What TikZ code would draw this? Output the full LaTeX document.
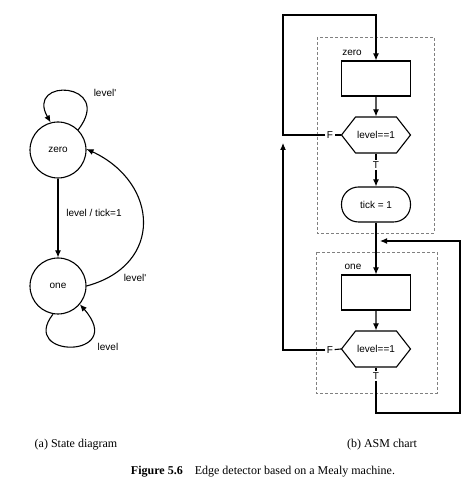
\documentclass[tikz,border=0pt]{standalone}
\usepackage{fontspec}
\setmainfont{Liberation Serif}
\newfontfamily\asmfont{Liberation Sans}
\usepackage{tikz}
\usetikzlibrary{arrows.meta}
\usetikzlibrary{shapes.symbols}

\tikzset{
  state/.style={draw,circle,minimum size=56pt,inner sep=0pt},
  stbox/.style={draw,rectangle,minimum width=69pt,minimum height=35pt},
  cond/.style={draw,signal,signal to=west and east,signal pointer angle=104,
    minimum width=69pt,minimum height=36pt,inner sep=0pt},
  outbox/.style={draw,rectangle,rounded corners=17pt,minimum width=69pt,minimum height=35pt},
  region/.style={densely dashed,line width=0.5pt,gray},
  lbl/.style={inner sep=1pt},
  capt/.style={font=\rmfamily\fontsize{12}{14}\selectfont}
}

\begin{document}
\begin{tikzpicture}[x=1pt,y=1pt,line width=1.1pt,>={Latex[length=7pt,width=6pt]},
  font=\asmfont\fontsize{10}{12}\selectfont]
\useasboundingbox (0,0) rectangle (474,502);
% (a) state diagram
\node[state] (zero) at (58,352) {zero};
\node[state] (one) at (58,216) {one};
\draw[->] (zero.45) .. controls (115,420) and (25,425) .. (zero.105);
\draw[->] (zero) -- (one);
\draw[->] (one.east) to[out=15,in=-25,looseness=1.5] (zero.2);
\draw[->] (one.-100) .. controls (18,143) and (128,143) .. (one.-40);
\node (lz) at (105,409) {level'};
\node (lzo) at (94,289) {level / tick=1};
\node (lo) at (135,224) {level'};
\node (loo) at (108,155) {level};
% (b) ASM chart
\draw[region] (317,465) rectangle (434,269);
\draw[region] (316,250) rectangle (437,109);
\node (nzero) at (352,449) {zero};
\node (none) at (353,235) {one};
\node[stbox] (box0) at (376,423.5) {};
\node[cond] (hex0) at (376,367) {level==1};
\node[outbox] (tick) at (376,297.5) {tick = 1};
\node[stbox] (box1) at (376,209.5) {};
\node[cond] (hex1) at (376,153) {level==1};
\node[lbl] (f0) at (330,367) {F};
\node[lbl] (t0) at (376,337) {T};
\node[lbl] (f1) at (330,152) {F};
\node[lbl] (t1) at (376,126) {T};
\coordinate (c0) at (283,487);
\coordinate (c1) at (283,359);
\coordinate (c2) at (380,261);
\coordinate (c3) at (460,89);
\draw[->] (box0) -- (hex0);
\draw (hex0.west) -- (f0);
\draw[->] (f0) -| (c0) -| (box0.north);
\draw (hex0.south) -- (t0);
\draw[->] (t0) -- (tick);
\draw[->] (tick) -- (box1);
\draw[->] (box1) -- (hex1);
\draw (hex1.west) -- (f1);
\draw[->] (f1) -| (c1);
\draw (hex1.south) -- (t1);
\draw[->] (t1) |- (c3) |- (c2);
% captions
\node[capt] (capa) at (76,57) {(a) State diagram};
\node[capt] (capb) at (382,57) {(b) ASM chart};
\node[capt] (fig) at (263,30) {\textbf{Figure 5.6}\quad Edge detector based on a Mealy machine.};
\end{tikzpicture}
\end{document}
